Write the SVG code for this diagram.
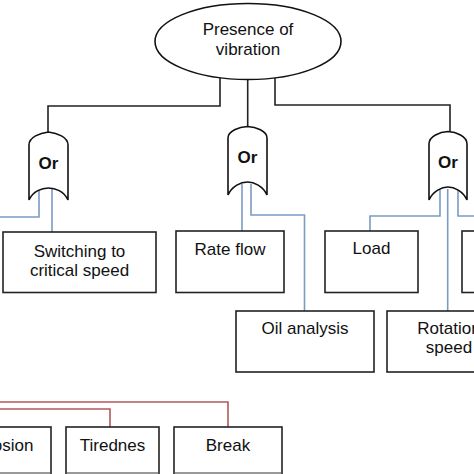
<svg xmlns="http://www.w3.org/2000/svg" width="474" height="474" viewBox="0 0 474 474">
<style>
.box{fill:#fff;stroke:#222;stroke-width:1.6}
.gate{fill:#fff;stroke:#111;stroke-width:1.6}
.t{font-family:"Liberation Sans",Arial,sans-serif;font-size:17px;fill:#111;text-anchor:middle}
.g{font-family:"Liberation Sans",Arial,sans-serif;font-size:17px;font-weight:bold;fill:#111;text-anchor:middle}
.k{fill:none;stroke:#222;stroke-width:1.6}
.b{fill:none;stroke:#7b9ac4;stroke-width:1.6}
.r{fill:none;stroke:#b5585c;stroke-width:1.6}
</style>
<rect width="474" height="474" fill="#fff"/>
<g id="connectors">
<path class="k" d="M220,78 V106 H48 V133"/>
<path class="k" d="M247.7,80 V127"/>
<path class="k" d="M275,78 V105 H450 V132"/>
<path class="b" d="M39,190 V217 H0"/>
<path class="b" d="M52,189 V232"/>
<path class="b" d="M242,184 V231"/>
<path class="b" d="M251,184 V215 H304.5 V311"/>
<path class="b" d="M440,190 V216 H370 V231"/>
<path class="b" d="M447.7,189 V311"/>
<path class="b" d="M458,190 V216 H474"/>
<path class="r" d="M0,402 H228 V427"/>
<path class="r" d="M0,409 H110 V427"/>
</g>
<g id="top">
<ellipse cx="248" cy="41.5" rx="93" ry="38" fill="#fff" stroke="#111" stroke-width="1.6"/>
<text class="t" x="248" y="35">Presence of</text>
<text class="t" x="248" y="54.5">vibration</text>
</g>
<g id="gate1">
<path class="gate" d="M29,200 V145 C29,137 40,133 48.5,132 C57,133 68,137 68,145 V200 C64,191 55,188 48.5,188 C42,188 33,191 29,200 Z"/>
<text class="g" x="48.5" y="169">Or</text>
</g>
<g id="gate2">
<path class="gate" d="M228,195 V138 C228,131 239,127 247.5,126.5 C256,127 267,131 267,138 V195 C263,186 254,182 247.5,182 C241,182 232,186 228,195 Z"/>
<text class="g" x="247.5" y="163">Or</text>
</g>
<g id="gate3">
<path class="gate" d="M429,200 V144 C429,136 440,132 448,131.5 C456,132 467,136 467,144 V200 C463,191 454,187 448,187 C442,187 433,191 429,200 Z"/>
<text class="g" x="448" y="168">Or</text>
</g>
<g id="switching">
<rect class="box" x="3" y="232" width="153" height="60.5"/>
<text class="t" x="79.5" y="256.5">Switching to</text>
<text class="t" x="79.5" y="275.5">critical speed</text>
</g>
<g id="rateflow">
<rect class="box" x="176" y="231" width="108" height="61.5"/>
<text class="t" x="230" y="254.5">Rate flow</text>
</g>
<g id="load">
<rect class="box" x="325" y="231" width="93" height="61.5"/>
<text class="t" x="371.5" y="254">Load</text>
</g>
<g id="rightbox">
<rect class="box" x="462" y="231" width="30" height="61.5"/>
</g>
<g id="oil">
<rect class="box" x="236" y="311" width="138" height="61"/>
<text class="t" x="305" y="334">Oil analysis</text>
</g>
<g id="rotation">
<rect class="box" x="387" y="311" width="100" height="61"/>
<text class="t" x="449" y="334">Rotation</text>
<text class="t" x="449" y="353">speed</text>
</g>
<g id="osion">
<rect class="box" x="-10" y="427" width="61" height="60"/>
<rect x="-10" y="472" width="60" height="2" fill="#999"/>
<text class="t" x="33.5" y="450.5" style="text-anchor:end">osion</text>
</g>
<g id="tirednes">
<rect class="box" x="66" y="427" width="93" height="60"/>
<rect x="67" y="472" width="91" height="2" fill="#999"/>
<text class="t" x="112.5" y="450.5">Tirednes</text>
</g>
<g id="break">
<rect class="box" x="174" y="427" width="108" height="60"/>
<rect x="175" y="472" width="106" height="2" fill="#999"/>
<text class="t" x="228" y="450.5">Break</text>
</g>
</svg>
